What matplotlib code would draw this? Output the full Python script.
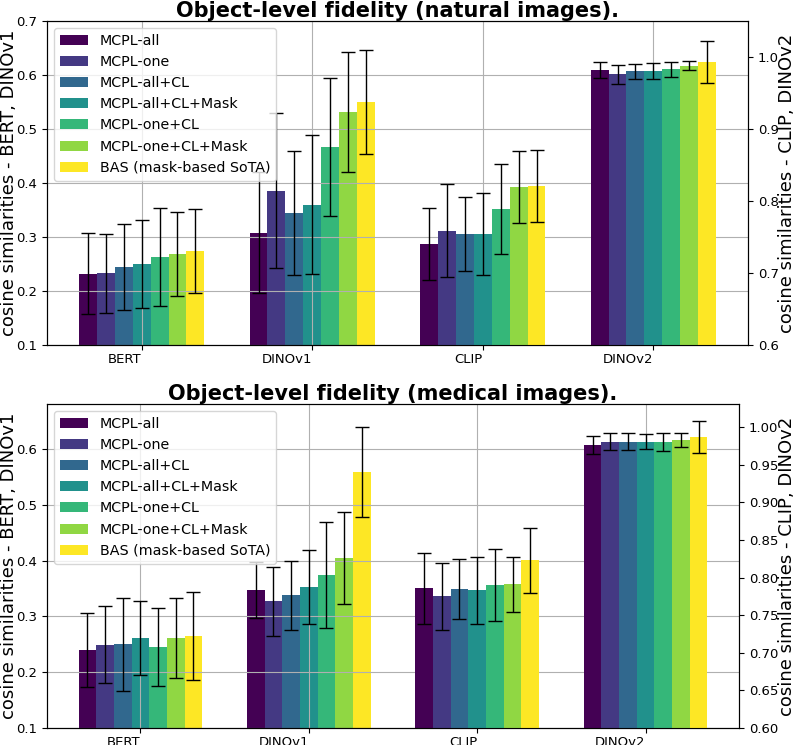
import numpy as np
import matplotlib
matplotlib.use('Agg')
import matplotlib.pyplot as plt

methods = ['MCPL-all', 'MCPL-one', 'MCPL-all+CL', 'MCPL-all+CL+Mask',
           'MCPL-one+CL', 'MCPL-one+CL+Mask', 'BAS (mask-based SoTA)']
models = ['BERT', 'DINOv1', 'CLIP', 'DINOv2']

# natural images
nat_bert = [0.232, 0.233, 0.244, 0.250, 0.263, 0.269, 0.274]
nat_bert_err = [0.075, 0.073, 0.080, 0.082, 0.090, 0.078, 0.078]
nat_dino1 = [0.308, 0.386, 0.345, 0.360, 0.466, 0.532, 0.550]
nat_dino1_err = [0.112, 0.143, 0.115, 0.128, 0.128, 0.111, 0.097]
nat_clip = [0.740, 0.759, 0.754, 0.754, 0.789, 0.819, 0.821]
nat_clip_err = [0.050, 0.064, 0.051, 0.057, 0.062, 0.050, 0.050]
nat_dino2 = [0.982, 0.976, 0.980, 0.980, 0.983, 0.988, 0.993]
nat_dino2_err = [0.0105, 0.013, 0.0105, 0.011, 0.0105, 0.006, 0.029]

# medical images
med_bert = [0.240, 0.249, 0.250, 0.261, 0.245, 0.261, 0.265]
med_bert_err = [0.066, 0.069, 0.084, 0.066, 0.070, 0.072, 0.079]
med_dino1 = [0.347, 0.327, 0.338, 0.353, 0.374, 0.405, 0.559]
med_dino1_err = [0.050, 0.062, 0.062, 0.067, 0.095, 0.082, 0.081]
med_clip = [0.786, 0.775, 0.785, 0.783, 0.790, 0.791, 0.823]
med_clip_err = [0.047, 0.044, 0.040, 0.045, 0.048, 0.037, 0.043]
med_dino2 = [0.976, 0.981, 0.981, 0.981, 0.980, 0.983, 0.987]
med_dino2_err = [0.012, 0.011, 0.011, 0.010, 0.012, 0.009, 0.021]

colors = plt.cm.viridis(np.linspace(0, 1, len(methods)))
width = 0.105
x = np.arange(len(models))


def panel(ax, left_vals, left_errs, right_vals, right_errs, title, ylim_l, ylim_r,
          rticks, lab_l, lab_r):
    ax2 = ax.twinx()
    for i in range(len(methods)):
        off = (i - 3) * width
        ax.bar(x[:2] + off, [left_vals[0][i], left_vals[1][i]], width,
               yerr=[left_errs[0][i], left_errs[1][i]], capsize=5,
               color=colors[i], label=methods[i], error_kw=dict(elinewidth=1))
        ax2.bar(x[2:] + off, [right_vals[0][i], right_vals[1][i]], width,
                yerr=[right_errs[0][i], right_errs[1][i]], capsize=5,
                color=colors[i], error_kw=dict(elinewidth=1))
    ax.set_ylim(*ylim_l)
    ax2.set_ylim(*ylim_r)
    ax2.set_yticks(rticks)
    ax.set_xlim(-0.555, 3.555)
    ax.set_xticks(x)
    ax.set_xticklabels(models, ha='right')
    ax.grid(True)
    ax.set_ylabel('cosine similarities - BERT, DINOv1', fontsize=13)
    ax2.set_ylabel('cosine similarities - CLIP, DINOv2', fontsize=13)
    ax.yaxis.set_label_coords(lab_l, 0.5)
    ax2.yaxis.set_label_coords(lab_r, 0.5)
    ax.tick_params(labelsize=9.5)
    ax.tick_params(axis='x', pad=2.5)
    ax2.tick_params(labelsize=9.5)
    ax.set_title(title, fontsize=15, fontweight='bold', pad=2)
    ax.legend(loc='upper left', fontsize=10.3)


fig = plt.figure(figsize=(7.94, 7.45), dpi=100)
ax_top = fig.add_axes([0.0592, 0.5369, 0.8829, 0.4349])
ax_bot = fig.add_axes([0.0592, 0.0228, 0.8715, 0.4349])

panel(ax_top, [nat_bert, nat_dino1], [nat_bert_err, nat_dino1_err],
      [nat_clip, nat_dino2], [nat_clip_err, nat_dino2_err],
      'Object-level fidelity (natural images).', (0.1, 0.7), (0.6, 1.05),
      np.arange(0.6, 1.01, 0.1), -0.041, 1.043)
panel(ax_bot, [med_bert, med_dino1], [med_bert_err, med_dino1_err],
      [med_clip, med_dino2], [med_clip_err, med_dino2_err],
      'Object-level fidelity (medical images).', (0.1, 0.681), (0.6, 1.031),
      np.arange(0.6, 1.001, 0.05), -0.042, 1.056)

fig.savefig('out.png', dpi=100)
